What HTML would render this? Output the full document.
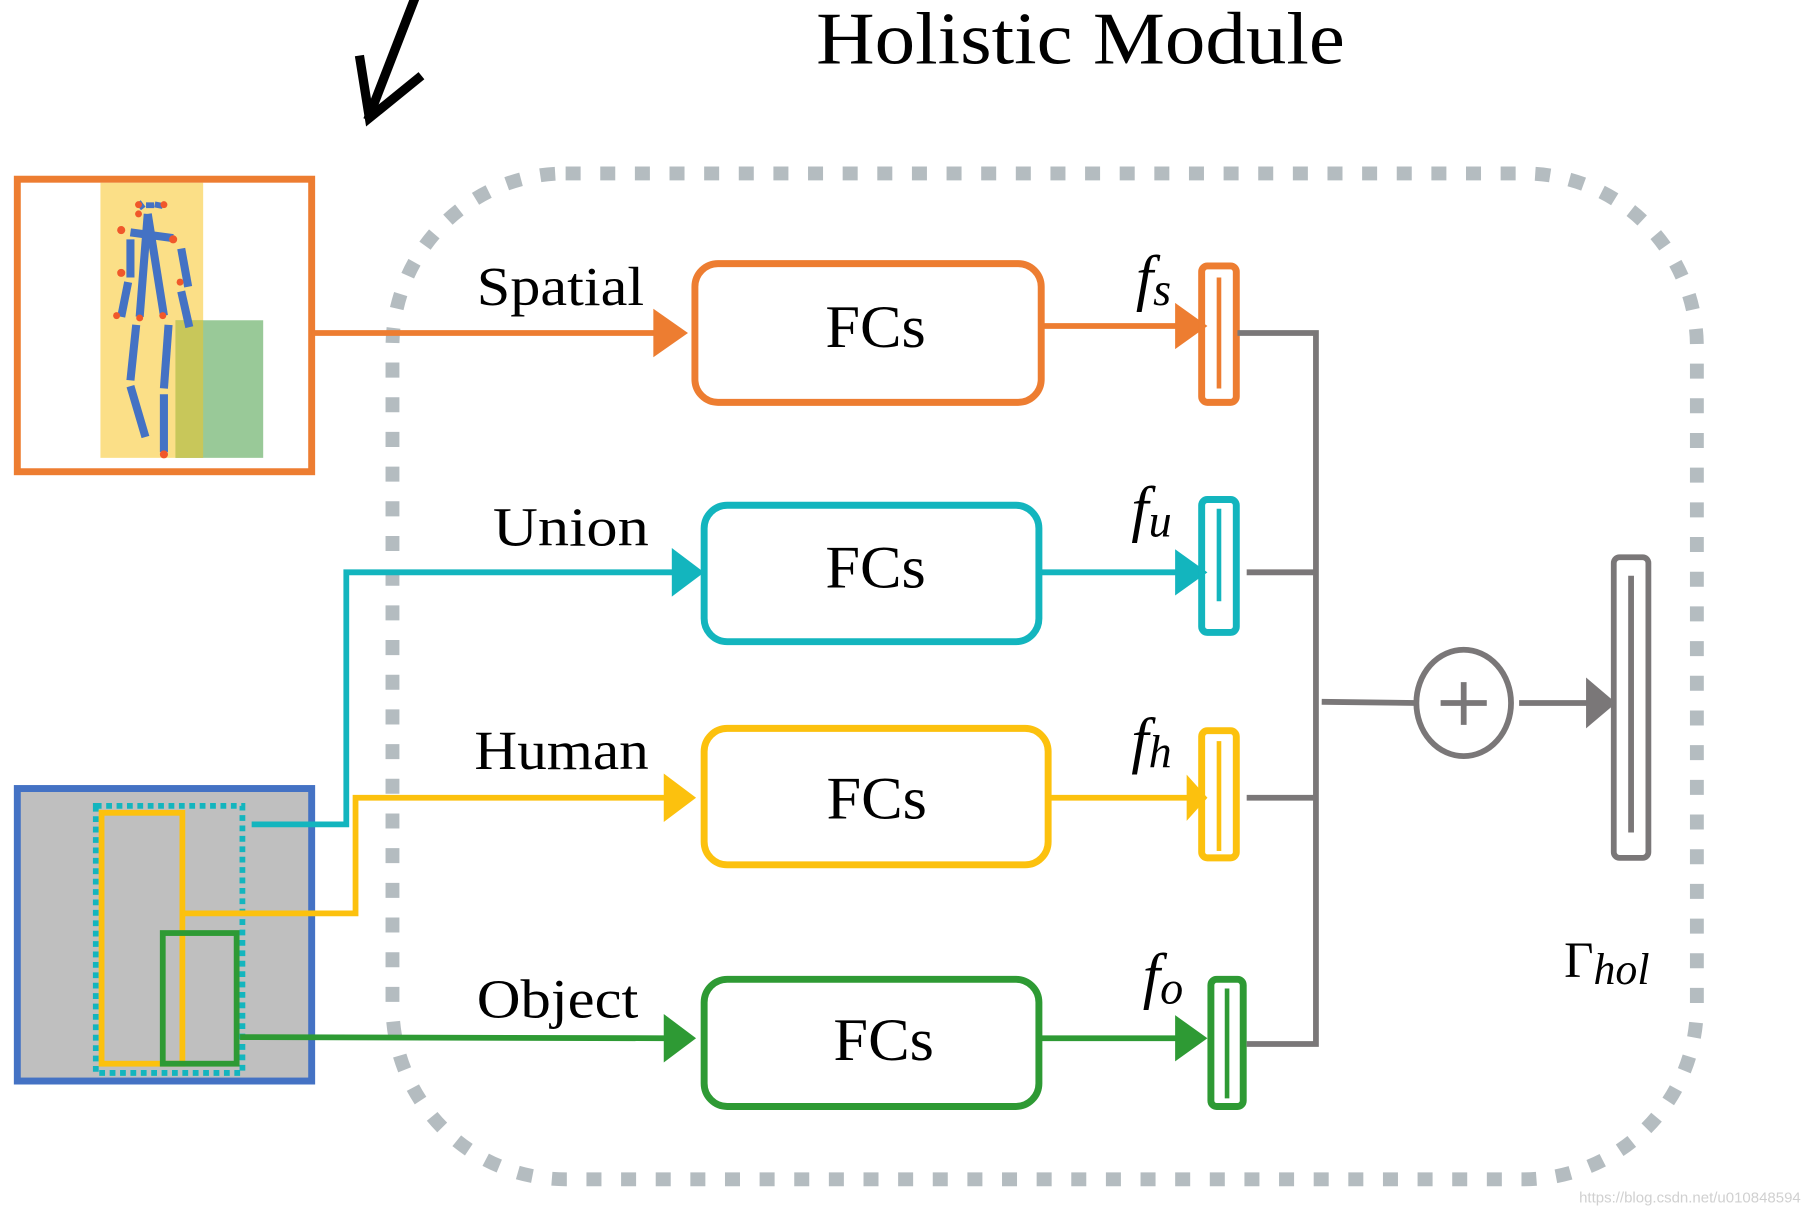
<!DOCTYPE html>
<html><head><meta charset="utf-8"><style>
html,body{margin:0;padding:0;background:#fff;}
svg{display:block;}
text{font-family:"Liberation Serif",serif;fill:#000;}
</style></head><body>
<svg width="1810" height="1214" viewBox="0 0 1568 1050" preserveAspectRatio="none" xmlns="http://www.w3.org/2000/svg">
<text x="707" y="55" font-size="64" textLength="458" lengthAdjust="spacingAndGlyphs">Holistic Module</text>
<g stroke="#000" stroke-width="8" fill="none" stroke-linecap="square">
<line x1="358" y1="2" x2="320" y2="100"/>
<polyline points="312,52 320,102 362,68"/>
</g>
<rect x="340" y="150" width="1130" height="870" rx="150" fill="none" stroke="#b4bcc0" stroke-width="12" stroke-dasharray="13 17"/>

<!-- spatial image -->
<rect x="87" y="158" width="89" height="238" fill="#fbdf87"/>
<rect x="152" y="277" width="76" height="119" fill="#99c998"/>
<rect x="152" y="277" width="24" height="119" fill="#c8c75a"/>
<g stroke="#4472c4" stroke-width="7">
<line x1="120" y1="179" x2="124" y2="176"/>
<line x1="130" y1="175" x2="130" y2="180"/>
<line x1="138" y1="175" x2="137" y2="180"/>
<line x1="128" y1="185" x2="121" y2="274"/>
<line x1="128" y1="185" x2="142" y2="273"/>
<line x1="113" y1="201" x2="150" y2="206"/>
<line x1="113" y1="207" x2="113" y2="240"/>
<line x1="111" y1="244" x2="105" y2="274"/>
<line x1="157" y1="215" x2="163" y2="248"/>
<line x1="157" y1="252" x2="164" y2="283"/>
<line x1="118" y1="281" x2="113" y2="329"/>
<line x1="113" y1="334" x2="126" y2="378"/>
<line x1="146" y1="281" x2="142" y2="336"/>
<line x1="142" y1="341" x2="142" y2="391"/>
</g>
<g fill="#f0582a">
<circle cx="120" cy="177" r="3"/><circle cx="142" cy="177" r="3"/><circle cx="120" cy="185" r="3"/>
<circle cx="105" cy="199" r="3.5"/><circle cx="105" cy="236" r="3.5"/><circle cx="101" cy="273" r="3"/>
<circle cx="150" cy="207" r="3.5"/><circle cx="156" cy="244" r="3"/><circle cx="142" cy="393" r="3.5"/>
<circle cx="121" cy="275" r="3"/><circle cx="141" cy="273" r="3"/>
</g>
<rect x="15" y="155" width="255" height="253" fill="none" stroke="#ed7d31" stroke-width="6"/>

<!-- object image -->
<rect x="15" y="682" width="255" height="253" fill="#bfbfbf" stroke="#4472c4" stroke-width="6"/>
<rect x="83" y="697" width="127" height="231" fill="none" stroke="#13b5be" stroke-width="5" stroke-dasharray="5 4"/>
<rect x="88" y="703" width="70" height="217" fill="none" stroke="#fcc10e" stroke-width="5"/>
<rect x="141" y="807" width="64" height="113" fill="none" stroke="#2e9a34" stroke-width="5"/>

<!-- connectors -->
<g fill="none" stroke-width="5">
<polyline points="270,288 572,288" stroke="#ed7d31"/>
<polyline points="218,713 300,713 300,495 585,495" stroke="#13b5be"/>
<polyline points="157,790 308,790 308,690 578,690" stroke="#fcc10e"/>
<polyline points="208,897 578,898" stroke="#2e9a34"/>
<polyline points="902,282 1022,282" stroke="#ed7d31"/>
<polyline points="902,495 1022,495" stroke="#13b5be"/>
<polyline points="908,690 1030,690" stroke="#fcc10e"/>
<polyline points="902,898 1022,898" stroke="#2e9a34"/>
</g>
<polygon points="566,267 596,288 566,309" fill="#ed7d31"/>
<polygon points="582,474 610,495 582,516" fill="#13b5be"/>
<polygon points="575,669 603,690 575,711" fill="#fcc10e"/>
<polygon points="575,877 603,898 575,919" fill="#2e9a34"/>
<polygon points="1018,262 1046,282 1018,302" fill="#ed7d31"/>
<polygon points="1018,475 1046,495 1018,515" fill="#13b5be"/>
<polygon points="1028,670 1046,690 1028,710" fill="#fcc10e"/>
<polygon points="1018,878 1046,898 1018,918" fill="#2e9a34"/>

<!-- FCs boxes -->
<g fill="none" stroke-width="6">
<rect x="602" y="228" width="300" height="120" rx="20" stroke="#ed7d31"/>
<rect x="610" y="437" width="290" height="118" rx="20" stroke="#13b5be"/>
<rect x="610" y="630" width="298" height="118" rx="20" stroke="#fcc10e"/>
<rect x="610" y="847" width="290" height="110" rx="20" stroke="#2e9a34"/>
</g>
<g font-size="52">
<text x="715" y="300" textLength="87" lengthAdjust="spacingAndGlyphs">FCs</text>
<text x="715" y="508" textLength="87" lengthAdjust="spacingAndGlyphs">FCs</text>
<text x="716" y="708" textLength="87" lengthAdjust="spacingAndGlyphs">FCs</text>
<text x="722" y="917" textLength="87" lengthAdjust="spacingAndGlyphs">FCs</text>
</g>
<g font-size="48">
<text x="413" y="264" textLength="145" lengthAdjust="spacingAndGlyphs">Spatial</text>
<text x="427" y="472" textLength="135" lengthAdjust="spacingAndGlyphs">Union</text>
<text x="411" y="665" textLength="151" lengthAdjust="spacingAndGlyphs">Human</text>
<text x="413" y="880" textLength="140" lengthAdjust="spacingAndGlyphs">Object</text>
</g>

<!-- feature bars -->
<g fill="none" stroke-width="6">
<rect x="1041" y="230" width="30" height="118" rx="5" stroke="#ed7d31"/>
<rect x="1041" y="432" width="30" height="115" rx="5" stroke="#13b5be"/>
<rect x="1041" y="632" width="30" height="110" rx="5" stroke="#fcc10e"/>
<rect x="1049" y="847" width="28" height="110" rx="5" stroke="#2e9a34"/>
</g>
<g stroke-width="4">
<line x1="1056" y1="240" x2="1056" y2="336" stroke="#ed7d31"/>
<line x1="1056" y1="440" x2="1056" y2="520" stroke="#13b5be"/>
<line x1="1056" y1="641" x2="1056" y2="736" stroke="#fcc10e"/>
<line x1="1063" y1="855" x2="1063" y2="950" stroke="#2e9a34"/>
</g>

<!-- f labels -->
<g font-size="54" font-style="italic">
<text x="984" y="258">f<tspan font-size="40" dy="6">s</tspan></text>
<text x="980" y="458">f<tspan font-size="40" dy="6">u</tspan></text>
<text x="980" y="658">f<tspan font-size="40" dy="6">h</tspan></text>
<text x="990" y="862">f<tspan font-size="40" dy="6">o</tspan></text>
</g>

<!-- gray aggregation -->
<g stroke="#7a7778" stroke-width="5" fill="none">
<polyline points="1072,288 1140,288 1140,903 1080,903"/>
<line x1="1080" y1="495" x2="1140" y2="495"/>
<line x1="1080" y1="690" x2="1140" y2="690"/>
<line x1="1145" y1="607" x2="1227" y2="608"/>
<ellipse cx="1268" cy="608" rx="41" ry="46"/>
<line x1="1248" y1="608" x2="1288" y2="608"/>
<line x1="1268" y1="590" x2="1268" y2="627"/>
<line x1="1316" y1="608" x2="1380" y2="608"/>
<rect x="1398" y="482" width="30" height="260" rx="5"/>
<line x1="1413" y1="498" x2="1413" y2="720"/>
</g>
<polygon points="1374,586 1400,608 1374,630" fill="#7a7778"/>
<text x="1355" y="845" font-size="44">Γ<tspan font-style="italic" font-size="38" dy="6">hol</tspan></text>
<text x="1560" y="1040" font-size="13" text-anchor="end" style="font-family:'Liberation Sans',sans-serif;fill:#d0d0d0">https://blog.csdn.net/u010848594</text>
</svg>
</body></html>
